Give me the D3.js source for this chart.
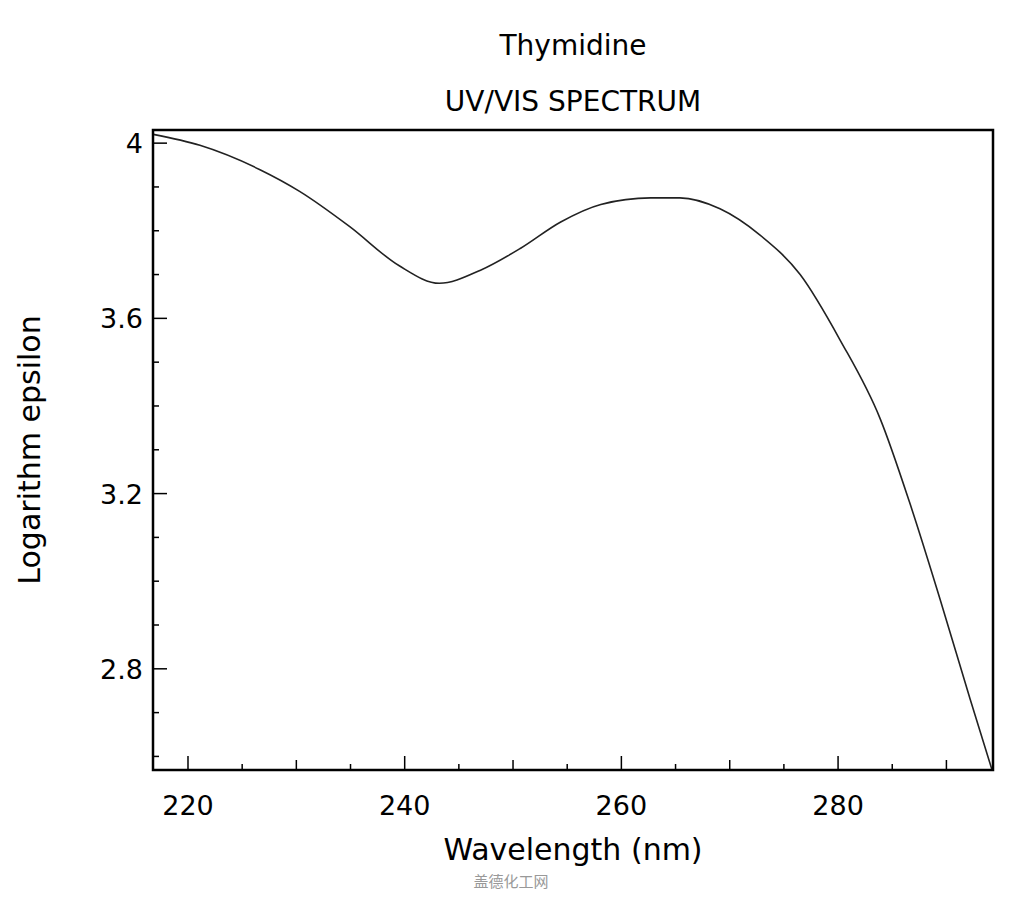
<!DOCTYPE html>
<html><head><meta charset="utf-8">
<script src="https://cdn.jsdelivr.net/npm/d3@7"></script>
<style>body{margin:0;background:#fff}</style>
</head><body>
<script>
// curve: wavelength (nm) and log epsilon
const wavelength = [216.8, 221.1, 226.6, 230.3, 234.9, 239.5, 243.2, 247.0, 250.7, 254.4, 258.1, 262.7, 265.4, 269.1, 272.8, 276.5, 280.2, 283.9, 286.6, 289.4, 292.2, 294.2];
const logEps     = [4.02, 3.995, 3.94, 3.89, 3.81, 3.72, 3.68, 3.71, 3.76, 3.82, 3.86, 3.875, 3.875, 3.85, 3.79, 3.70, 3.55, 3.37, 3.18, 2.96, 2.73, 2.57];
const xTickLabels = [220, 240, 260, 280];
const yTickLabels = [4, 3.6, 3.2, 2.8];

const W = 1024, H = 900;
const m = {left: 153, right: 993, top: 130, bottom: 770};
const font = "DejaVu Sans, sans-serif";

const svg = d3.select("body").append("svg").attr("width", W).attr("height", H);

const x = d3.scaleLinear().domain([216.77, 294.3]).range([m.left, m.right]);
const y = d3.scaleLinear().domain([2.569, 4.03]).range([m.bottom, m.top]);

// ticks inside the frame
const xMinor = d3.range(220, 295, 5);
svg.append("g").selectAll("line").data(xMinor).enter().append("line")
    .attr("x1", d => x(d)).attr("x2", d => x(d))
    .attr("y1", m.bottom).attr("y2", d => m.bottom - (d % 20 === 0 ? 14 : d % 10 === 0 ? 10 : 6))
    .attr("stroke", "#000").attr("stroke-width", 1.5);
const yMinor = d3.range(26, 41).map(d => d / 10);
svg.append("g").selectAll("line").data(yMinor).enter().append("line")
    .attr("x1", m.left).attr("x2", d => m.left + (Math.round(d * 10) % 4 === 0 ? 14 : 6))
    .attr("y1", d => y(d)).attr("y2", d => y(d))
    .attr("stroke", "#000").attr("stroke-width", 1.5);

svg.append("g").selectAll("text").data(xTickLabels).enter().append("text")
    .attr("x", d => x(d)).attr("y", 815).attr("text-anchor", "middle")
    .attr("font-family", font).attr("font-size", 27).text(d => d);
svg.append("g").selectAll("text").data(yTickLabels).enter().append("text")
    .attr("x", 143).attr("y", d => y(d) + 10).attr("text-anchor", "end")
    .attr("font-family", font).attr("font-size", 27).text(d => d);

const line = d3.line().x((d, i) => x(d)).y((d, i) => y(logEps[i])).curve(d3.curveMonotoneX);
svg.append("path").attr("d", line(wavelength))
    .attr("fill", "none").attr("stroke", "#222").attr("stroke-width", 1.6);

svg.append("rect").attr("x", m.left).attr("y", m.top)
    .attr("width", m.right - m.left).attr("height", m.bottom - m.top)
    .attr("fill", "none").attr("stroke", "#000").attr("stroke-width", 2.5);

svg.append("text").attr("x", 573).attr("y", 55).attr("text-anchor", "middle")
    .attr("font-family", font).attr("font-size", 28).text("Thymidine");
svg.append("text").attr("x", 573).attr("y", 111).attr("text-anchor", "middle")
    .attr("font-family", font).attr("font-size", 28).text("UV/VIS SPECTRUM");
svg.append("text").attr("x", 573).attr("y", 860).attr("text-anchor", "middle")
    .attr("font-family", font).attr("font-size", 30).text("Wavelength (nm)");
svg.append("text").attr("transform", "translate(40,450) rotate(-90)").attr("text-anchor", "middle")
    .attr("font-family", font).attr("font-size", 30).text("Logarithm epsilon");
svg.append("text").attr("x", 511).attr("y", 887).attr("text-anchor", "middle")
    .attr("font-family", "Noto Sans CJK SC").attr("font-size", 15).attr("fill", "#999").text("盖德化工网");
</script>
</body></html>
